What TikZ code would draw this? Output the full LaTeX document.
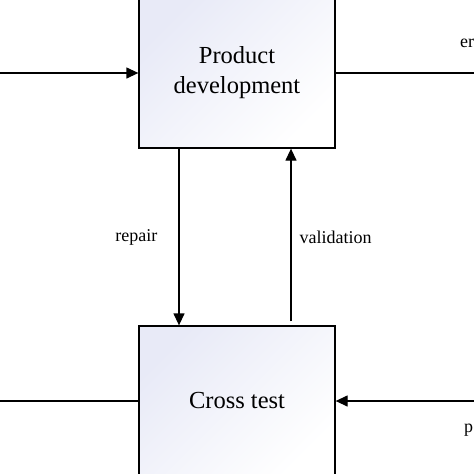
\documentclass[tikz,border=0pt]{standalone}
\usepackage{fontspec}
\setmainfont{Liberation Serif}
\usetikzlibrary{arrows.meta,positioning}
\definecolor{boxtint}{RGB}{232,234,247}

\begin{document}
\begin{tikzpicture}[
    x=1pt,y=-1pt,
    stage/.style={rectangle,draw=black,line width=1.3pt,minimum width=196pt,minimum height=150pt,
      align=center,font=\fontsize{24.5}{30}\selectfont,
      top color=boxtint,middle color=white,bottom color=white,shading angle=45},
    flow/.style={line width=1.3pt,-{Triangle[length=12pt,width=11pt]}},
    plain/.style={line width=1.3pt},
    lbl/.style={font=\fontsize{18}{21}\selectfont,inner sep=0pt}
  ]
  \useasboundingbox (0,0) rectangle (474,474);
  \clip (0,0) rectangle (474,474);

  \node[stage] (dev) at (237,73) {Product\\development};
  \node[stage] (test) at (237,401) {Cross test};

  \coordinate (inL) at (0,73);
  \coordinate (outR) at (474,73);
  \coordinate (outL) at (0,401);
  \coordinate (inR) at (474,401);

  \node[lbl,anchor=base west] (errlbl) at (460,47) {er};
  \node[lbl,anchor=base west] (plbl) at (464,432) {p};

  % Relations
  \draw[flow] (inL) -- (dev.west);
  \draw[plain] (dev.east) -- (outR);
  \draw[plain] (test.west) -- (outL);
  \draw[flow] (inR) -- (test.east);
  \draw[flow] ([xshift=-58pt]dev.south) -- node[lbl,midway,left=21pt] {repair} ([xshift=-58pt]test.north);
  \draw[flow,shorten <=4pt] ([xshift=54pt]test.north) -- node[lbl,midway,right=8pt] {validation} ([xshift=54pt]dev.south);
\end{tikzpicture}
\end{document}
